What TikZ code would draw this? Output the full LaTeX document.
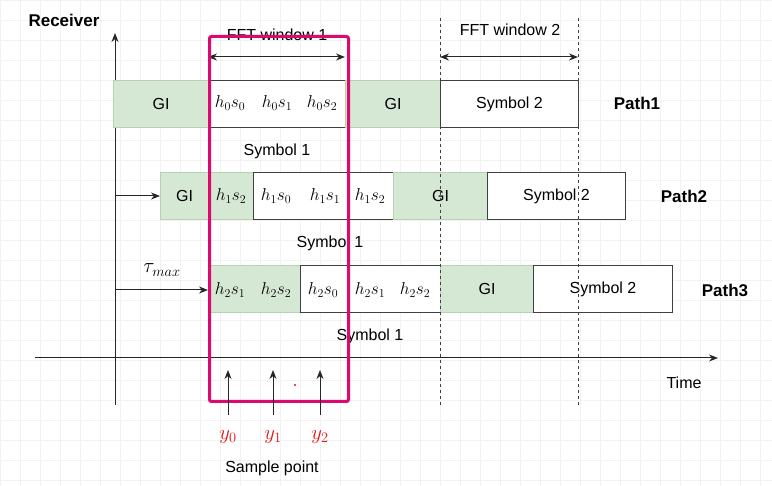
\documentclass[tikz,border=0pt]{standalone}
\usepackage{fontspec}
\setmainfont{Liberation Sans}
\usetikzlibrary{arrows.meta}
\definecolor{gfill}{HTML}{D5E8D4}
\definecolor{gline}{HTML}{B5D3B0}
\definecolor{win}{RGB}{220,10,110}
\begin{document}
\begin{tikzpicture}[x=1pt,y=-1pt,line width=1pt,
  gbox/.style={draw=gline,fill=gfill,minimum height=47pt,inner sep=0pt,font=\fontsize{16}{16}\selectfont,anchor=north west},
  wbox/.style={draw=black!75,fill=white,minimum height=47pt,inner sep=0pt,font=\fontsize{16}{16}\selectfont,anchor=north west},
  lab/.style={font=\fontsize{16}{16}\selectfont},
  mlab/.style={font=\fontsize{17}{17}\selectfont},
  plab/.style={font=\bfseries\fontsize{17}{17}\selectfont},
  arr/.style={-{Stealth[length=9pt,width=7pt]},black!85},
  darr/.style={{Stealth[length=9pt,width=7pt]}-{Stealth[length=9pt,width=7pt]},black!85}]
\useasboundingbox (0,0) rectangle (772,486);
\foreach \x in {0,20,...,772} \draw[black!5,line width=0.5pt] (\x,0) -- (\x,486);
\foreach \y in {0,20,...,486} \draw[black!5,line width=0.5pt] (0,\y) -- (772,\y);
% axes
\coordinate (ytop) at (115,33); \coordinate (ybot) at (115,405);
\draw[arr] (ybot) -- (ytop);
\node[font=\bfseries\fontsize{17}{17}\selectfont] (rec) at (64,20) {Receiver};
\coordinate (t0) at (35,358); \coordinate (t1) at (718,358);
\draw[arr] (t0) -- (t1);
\node[lab] (time) at (684,383) {Time};
% Path1
\node[gbox,minimum width=95pt] (g1) at (113,80) {GI};
\node[wbox,minimum width=137pt] (s1) at (208,80) {};
\node[mlab] (a1) at (230,103) {$h_0s_0$};
\node[mlab] (a2) at (277,103) {$h_0s_1$};
\node[mlab] (a3) at (322,103) {$h_0s_2$};
\node[gbox,minimum width=95pt] (g1b) at (345,80) {GI};
\node[wbox,minimum width=138pt] (s1b) at (440,80) {Symbol 2};
\node[plab] (p1) at (637,103) {Path1};
\node[lab] (sy1) at (277,151) {Symbol 1};
% Path2
\node[gbox,minimum width=48pt] (g2) at (160,172) {GI};
\node[gbox,minimum width=45pt] (c2) at (208,172) {\fontsize{17}{17}\selectfont$h_1s_2$};
\node[wbox,minimum width=140pt] (s2) at (253,172) {};
\node[mlab] (b1) at (276,196) {$h_1s_0$};
\node[mlab] (b2) at (325,196) {$h_1s_1$};
\node[mlab] (b3) at (370,196) {$h_1s_2$};
\node[gbox,minimum width=94pt] (g2b) at (393,172) {GI};
\node[wbox,minimum width=138pt] (s2b) at (487,172) {Symbol 2};
\node[plab] (p2) at (684,196) {Path2};
\node[lab] (sy2) at (330,243) {Symbol 1};
\coordinate (a2s) at (115,196);
\draw[arr] (a2s) -- (a2s -| g2.west);
% Path3
\node[gbox,minimum width=92pt] (c3) at (208,265) {};
\node[mlab] (c31) at (230,290) {$h_2s_1$};
\node[mlab] (c32) at (276,290) {$h_2s_2$};
\node[wbox,minimum width=140pt] (s3) at (300,265) {};
\node[mlab] (e1) at (323,290) {$h_2s_0$};
\node[mlab] (e2) at (370,290) {$h_2s_1$};
\node[mlab] (e3) at (415,290) {$h_2s_2$};
\node[gbox,minimum width=93pt] (g3b) at (440,265) {GI};
\node[wbox,minimum width=139pt] (s3b) at (533,265) {Symbol 2};
\node[plab] (p3) at (725,290) {Path3};
\node[lab] (sy3) at (370,336) {Symbol 1};
\coordinate (a3s) at (115,290);
\draw[arr] (a3s) -- (a3s -| c3.west);
\node[font=\fontsize{20}{20}\selectfont] (tau) at (162,270) {$\tau_{max}$};
% FFT windows
\coordinate (d1) at (440,18); \coordinate (d2) at (440,405);
\coordinate (d3) at (578,18); \coordinate (d4) at (578,405);
\draw[dash pattern=on 3pt off 3pt,black!75] (d1) -- (d2);
\draw[dash pattern=on 3pt off 3pt,black!75] (d3) -- (d4);
\node[lab] (w2) at (510,30) {FFT window 2};
\coordinate (w2a) at (440,57); \coordinate (w2b) at (578,57);
\draw[darr] (w2a) -- (w2b);
\node[lab] (w1) at (277,35) {FFT window 1};
\coordinate (w1a) at (208,57); \coordinate (w1b) at (345,57);
\draw[darr] (w1a) -- (w1b);
\node[draw=win,line width=3pt,rounded corners=2pt,minimum width=139pt,minimum height=365pt,inner sep=0pt,anchor=north west] (win) at (208,35) {};
% samples
\foreach \x/\i in {228/0,273/1,320/2}{
  \coordinate (sa\i) at (\x,415); \coordinate (sb\i) at (\x,370);
  \draw[arr] (sa\i) -- (sb\i);
  \node[text={rgb,255:red,225;green,20;blue,20},font=\fontsize{22}{22}\selectfont] (y\i) at (\x,437) {$y_\i$};
}
\fill[red] (295,385) circle (1.2pt);
\node[lab] (sp) at (272,468) {Sample point};
\end{tikzpicture}
\end{document}
